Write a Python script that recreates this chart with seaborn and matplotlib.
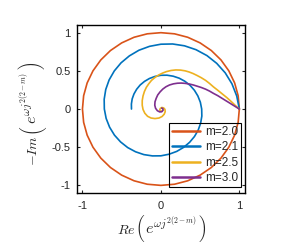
import os
import numpy as np
import pandas as pd
import seaborn as sns
import matplotlib
matplotlib.use("Agg")
import matplotlib.pyplot as plt
from matplotlib.font_manager import FontProperties

# ---- data (Re, -Im) ----
m20_x = [1.0, 0.985, 0.940, 0.866, 0.766, 0.643, 0.5, 0.342, 0.174, 0.0,
         -0.174, -0.342, -0.5, -0.643, -0.766, -0.866, -0.940, -0.985, -1.0,
         -0.985, -0.940, -0.866, -0.766, -0.643, -0.5, -0.342, -0.174, 0.0,
         0.174, 0.342, 0.5, 0.643, 0.766, 0.866, 0.940, 0.985, 1.0]
m20_y = [0.0, 0.174, 0.342, 0.5, 0.643, 0.766, 0.866, 0.940, 0.985, 1.0,
         0.985, 0.940, 0.866, 0.766, 0.643, 0.5, 0.342, 0.174, 0.0,
         -0.174, -0.342, -0.5, -0.643, -0.766, -0.866, -0.940, -0.985, -1.0,
         -0.985, -0.940, -0.866, -0.766, -0.643, -0.5, -0.342, -0.174, 0.0]

m21_x = [1.0, 0.967, 0.906, 0.820, 0.712, 0.587, 0.448, 0.301, 0.150, 0.0,
         -0.145, -0.280, -0.402, -0.508, -0.594, -0.660, -0.703, -0.723, -0.721,
         -0.698, -0.654, -0.592, -0.514, -0.423, -0.323, -0.217, -0.108, 0.0,
         0.104, 0.202, 0.290, 0.366, 0.428, 0.476, 0.507, 0.522, 0.520,
         0.503, 0.471, 0.427, 0.371, 0.305, 0.233, 0.157, 0.078, 0.0,
         -0.075, -0.146, -0.209, -0.264, -0.309, -0.343, -0.366, -0.376, -0.375]
m21_y = [0.0, 0.170, 0.330, 0.474, 0.598, 0.700, 0.777, 0.828, 0.852, 0.849,
         0.821, 0.770, 0.696, 0.605, 0.499, 0.381, 0.256, 0.128, 0.0,
         -0.123, -0.238, -0.342, -0.431, -0.505, -0.560, -0.597, -0.614, -0.613,
         -0.592, -0.555, -0.502, -0.436, -0.360, -0.275, -0.184, -0.092, 0.0,
         0.089, 0.172, 0.246, 0.311, 0.364, 0.404, 0.430, 0.443, 0.442,
         0.427, 0.400, 0.362, 0.315, 0.259, 0.198, 0.133, 0.066, 0.0]

m25_x = [1.0, 0.95, 0.90, 0.84, 0.78, 0.72, 0.67, 0.62, 0.57, 0.515, 0.46, 0.41,
         0.36, 0.31, 0.25, 0.19, 0.13, 0.07, 0.02, -0.03, -0.08, -0.12, -0.155,
         -0.185, -0.21, -0.228, -0.238, -0.238, -0.228, -0.205, -0.17, -0.125,
         -0.075, -0.025, 0.015, 0.042, 0.055, 0.052, 0.035, 0.012, -0.008,
         -0.015, -0.005, 0.012, 0.022]
m25_y = [0.0, 0.045, 0.095, 0.15, 0.20, 0.25, 0.29, 0.335, 0.375, 0.41, 0.44, 0.465,
         0.485, 0.50, 0.51, 0.512, 0.505, 0.49, 0.47, 0.445, 0.41, 0.375, 0.33,
         0.285, 0.23, 0.17, 0.11, 0.05, -0.005, -0.055, -0.095, -0.118,
         -0.125, -0.118, -0.098, -0.068, -0.035, -0.005, 0.015, 0.02, 0.008,
         -0.012, -0.028, -0.03, -0.018]

m30_x = [1.0, 0.945, 0.89, 0.835, 0.78, 0.725, 0.67, 0.62, 0.57, 0.515, 0.46, 0.41,
         0.36, 0.31, 0.26, 0.21, 0.16, 0.11, 0.065, 0.025, -0.01, -0.04, -0.06,
         -0.075, -0.078, -0.068, -0.045, -0.015, 0.012, 0.028, 0.025, 0.01]
m30_y = [0.0, 0.035, 0.07, 0.105, 0.14, 0.175, 0.205, 0.235, 0.26, 0.282, 0.30, 0.316,
         0.328, 0.336, 0.34, 0.338, 0.33, 0.315, 0.292, 0.262, 0.225, 0.185, 0.14,
         0.095, 0.05, 0.01, -0.022, -0.038, -0.035, -0.015, 0.005, 0.012]

labels = ["m=2.0", "m=2.1", "m=2.5", "m=3.0"]
colors = ["#D95319", "#0072BD", "#EDB120", "#7E2F8E"]
curves = [(m20_x, m20_y), (m21_x, m21_y), (m25_x, m25_y), (m30_x, m30_y)]

sns.set_style("white")
plt.rcParams["font.family"] = ["Liberation Sans", "DejaVu Sans"]
plt.rcParams["mathtext.fontset"] = "cm"

W, H = 303, 247
fig = plt.figure(figsize=(W / 100, H / 100), dpi=100)
ax = fig.add_axes([0.254, 0.2186, 0.554, 0.680])

for (xs, ys), lab, col in zip(curves, labels, colors):
    df = pd.DataFrame({"re": xs, "im": ys})
    sns.lineplot(data=df, x="re", y="im", sort=False, estimator=None,
                 color=col, linewidth=1.2, label=lab, ax=ax)

ax.set_xlim(-1.07, 1.07)
ax.set_ylim(-1.1, 1.1)
ax.set_xticks([-1, 0, 1])
ax.set_xticklabels(["-1", "0", "1"])
ax.set_yticks([-1, -0.5, 0, 0.5, 1])
ax.set_yticklabels(["-1", "-0.5", "0", "0.5", "1"])
ax.tick_params(direction="in", length=2.5, width=0.8, labelsize=8, colors="#262626",
               top=True, right=True, bottom=True, left=True)
ax.tick_params(axis="x", pad=6)
ax.tick_params(axis="y", pad=4.5)
for sp in ax.spines.values():
    sp.set_color("black")
    sp.set_linewidth(1.0)
ax.set_xlabel("")
ax.set_ylabel("")

# ---- axis labels: TeX style with \Big( \Big) from the cmex font ----
cmex = FontProperties(fname=os.path.join(matplotlib.get_data_path(), "fonts", "ttf", "cmex10.ttf"),
                      size=10.5)
expo = r"$e^{\omega j^{2(2-m)}}$"
tc = "#262626"


def px(x, y):
    return x / W, y / H


# x label (pixel positions, origin bottom-left)
fig.text(*px(117, 12.7), r"$Re$", fontsize=10, ha="left", va="baseline", color=tc)
fig.text(*px(140, 18.3), "\xb3", fontproperties=cmex, ha="center", va="center", color=tc)
fig.text(*px(145, 12.7), expo, fontsize=11.5, ha="left", va="baseline", color=tc)
fig.text(*px(202.5, 18.3), "\xb4", fontproperties=cmex, ha="center", va="center", color=tc)

# y label, rotated
rot = dict(rotation=90, rotation_mode="anchor", color=tc)
fig.text(*px(36.7, 81), r"$-Im$", fontsize=10, ha="left", va="baseline", **rot)
fig.text(*px(31.2, 118), "\xb3", fontproperties=cmex, ha="center", va="center", **rot)
fig.text(*px(36.7, 123), expo, fontsize=11.5, ha="left", va="baseline", **rot)
fig.text(*px(31.2, 182), "\xb4", fontproperties=cmex, ha="center", va="center", **rot)

leg = ax.legend(loc="lower right", bbox_to_anchor=(0.976, 0.036), borderaxespad=0,
                fontsize=8.5, frameon=True, fancybox=False, framealpha=1,
                facecolor="none", edgecolor="black", handlelength=2.4,
                handletextpad=0.4, labelspacing=0.28, borderpad=0.25)
leg.get_frame().set_linewidth(0.8)
for line in leg.get_lines():
    line.set_linewidth(1.8)

fig.savefig("out.png", dpi=100)
